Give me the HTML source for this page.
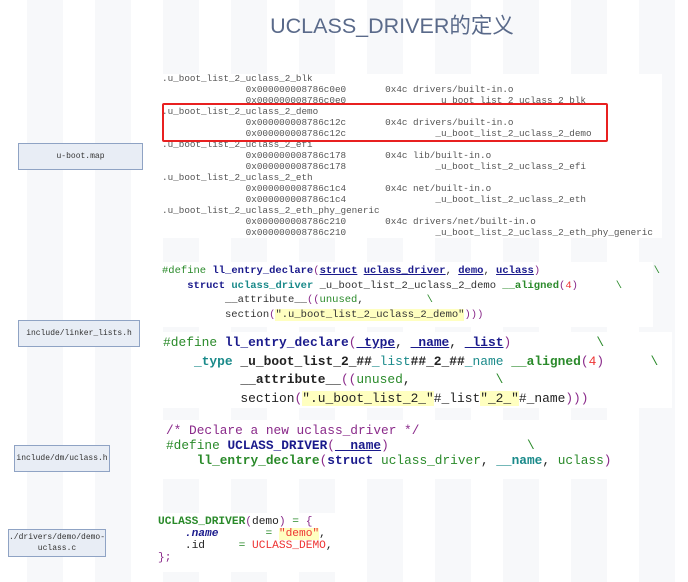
<!DOCTYPE html>
<html><head><meta charset="utf-8"><style>
*{margin:0;padding:0;box-sizing:border-box}
body{width:688px;height:582px;overflow:hidden;position:relative;font-family:"Liberation Sans",sans-serif;
background:repeating-linear-gradient(90deg,#fff 0 27px,#f7f8fa 27px 63px,#fff 63px 68px);}
.a{position:absolute}
.lbl{position:absolute;background:#e8edf5;border:1px solid #8fa3c4;font-family:"Liberation Mono",monospace;font-size:8px;color:#333;display:flex;align-items:center;justify-content:center;text-align:center;line-height:11px}
.panel{position:absolute;background:#fff}
pre{font-family:"Liberation Mono",monospace;white-space:pre;position:absolute}
.map{font-size:9.3px;line-height:11px;color:#555;left:4px;top:-1px}
.k{color:#1a1a8c;font-weight:bold}.g{color:#2a8a2a}.p{color:#8a2a8a}.r{color:#e33}.t{color:#1a8a8a}.y{background:#ffffc0}.u{text-decoration:underline}.b{font-weight:bold}
</style></head><body>
<div class="a" style="left:192px;top:9px;width:400px;text-align:center;font-size:21.5px;color:#5a6a8a">UCLASS_DRIVER的定义</div>

<div class="lbl" style="left:18px;top:143px;width:125px;height:27px">u-boot.map</div>
<div class="lbl" style="left:18px;top:320px;width:122px;height:27px">include/linker_lists.h</div>
<div class="lbl" style="left:14px;top:445px;width:96px;height:27px">include/dm/uclass.h</div>
<div class="lbl" style="left:8px;top:529px;width:98px;height:28px">./drivers/demo/demo-<br>uclass.c</div>

<div class="panel" style="left:158px;top:74px;width:504px;height:164px">
<pre class="map">.u_boot_list_2_uclass_2_blk
               0x000000008786c0e0       0x4c drivers/built-in.o
               0x000000008786c0e0                _u_boot_list_2_uclass_2_blk
.u_boot_list_2_uclass_2_demo
               0x000000008786c12c       0x4c drivers/built-in.o
               0x000000008786c12c                _u_boot_list_2_uclass_2_demo
.u_boot_list_2_uclass_2_efi
               0x000000008786c178       0x4c lib/built-in.o
               0x000000008786c178                _u_boot_list_2_uclass_2_efi
.u_boot_list_2_uclass_2_eth
               0x000000008786c1c4       0x4c net/built-in.o
               0x000000008786c1c4                _u_boot_list_2_uclass_2_eth
.u_boot_list_2_uclass_2_eth_phy_generic
               0x000000008786c210       0x4c drivers/net/built-in.o
               0x000000008786c210                _u_boot_list_2_uclass_2_eth_phy_generic</pre>
<div class="a" style="left:4px;top:29px;width:446px;height:39px;border:2px solid #e82020;border-radius:2px"></div>
</div>

<div class="panel" style="left:158px;top:262px;width:495px;height:65px">
<pre style="left:4px;top:2px;font-size:10.5px;line-height:14.5px;color:#333"><span class="g">#define</span> <span class="k">ll_entry_declare</span><span class="p">(</span><span class="k u">struct</span> <span class="k u">uclass_driver</span>, <span class="k u">demo</span>, <span class="k u">uclass</span><span class="p">)</span>                  <span class="g">\</span>
    <span class="k">struct</span> <span class="t b">uclass_driver</span> _u_boot_list_2_uclass_2_demo <span class="g b">__aligned</span><span class="p">(</span><span class="r">4</span><span class="p">)</span>      <span class="g">\</span>
          __attribute__<span class="p">((</span><span class="g">unused</span>,          <span class="g">\</span>
          section<span class="p">(</span><span class="y">".u_boot_list_2_uclass_2_demo"</span><span class="p">)))</span></pre>
</div>

<div class="panel" style="left:157px;top:332px;width:515px;height:76px">
<pre style="left:6px;top:2px;font-size:12.9px;line-height:18.5px;color:#222"><span class="g">#define</span> <span class="k">ll_entry_declare</span><span class="p">(</span><span class="k u">_type</span>, <span class="k u">_name</span>, <span class="k u">_list</span><span class="p">)</span>           <span class="g">\</span>
    <span class="t b">_type</span> <span class="b">_u_boot_list_2_##</span><span class="t">_list</span><span class="b">##_2_##</span><span class="t">_name</span> <span class="g b">__aligned</span><span class="p">(</span><span class="r">4</span><span class="p">)</span>      <span class="g">\</span>
          <span class="b">__attribute__</span><span class="p">((</span><span class="g">unused</span>,           <span class="g">\</span>
          section<span class="p">(</span><span class="y">".u_boot_list_2_"</span>#_list<span class="y">"_2_"</span>#_name<span class="p">)))</span></pre>
</div>

<div class="panel" style="left:160px;top:420px;width:470px;height:59px">
<pre style="left:6px;top:3px;font-size:12.8px;line-height:15px;color:#222"><span class="p">/* Declare a new uclass_driver */</span>
<span class="g">#define</span> <span class="k">UCLASS_DRIVER</span><span class="p">(</span><span class="k u">__name</span><span class="p">)</span>                  <span class="g">\</span>
    <span class="g b">ll_entry_declare</span><span class="p">(</span><span class="k">struct</span> <span class="g">uclass_driver</span>, <span class="t b">__name</span>, <span class="g">uclass</span><span class="p">)</span></pre>
</div>

<div class="panel" style="left:158px;top:513px;width:180px;height:59px">
<pre style="left:0px;top:3px;font-size:11.2px;line-height:12px;color:#222"><span class="g b">UCLASS_DRIVER</span><span class="p">(</span>demo<span class="p">)</span> <span class="g">=</span> <span class="p">{</span>
    <i class="k">.name</i>       <span class="g">=</span> <span class="y r">"demo"</span>,
    .id     <span class="g">=</span> <span class="r">UCLASS_DEMO</span>,
<span class="p">};</span></pre>
</div>
</body></html>
